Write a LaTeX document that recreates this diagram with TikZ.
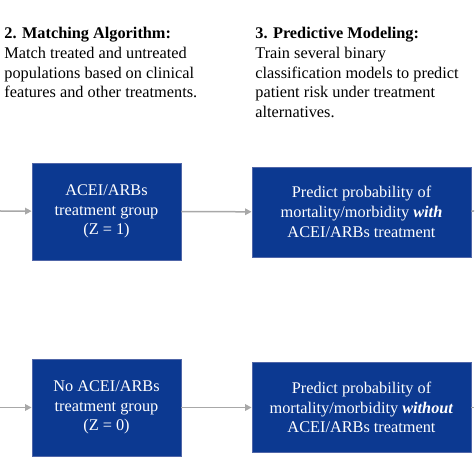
\documentclass[tikz,border=0pt]{standalone}
\usepackage{fontspec}
\setmainfont{Liberation Serif}
\usetikzlibrary{arrows.meta}
\definecolor{boxblue}{RGB}{12,57,145}
\definecolor{boxedge}{RGB}{80,102,168}
\definecolor{linkgray}{RGB}{168,168,168}
\begin{document}
\begin{tikzpicture}[x=0.5pt,y=-0.5pt,
  every node/.style={font=\fontsize{8.15}{9.85}\selectfont},
  groupbox/.style={draw=boxedge,line width=0.4pt,fill=boxblue,text=white,align=center,
    minimum width=74.5pt,minimum height=48.5pt,inner sep=0pt},
  predbox/.style={groupbox,minimum width=109.5pt,minimum height=45pt},
  link/.style={draw=linkgray,line width=0.75pt,-{Triangle[length=3.2pt,width=3.2pt]}},
  stub/.style={draw=linkgray,line width=0.75pt}]
\useasboundingbox (0,0) rectangle (474,474);
% step headings
\node[anchor=north west,align=left,inner sep=0pt] (match) at (4,27)
  {\textbf{2. Matching Algorithm:}\\Match treated and untreated\\populations based on clinical\\features and other treatments.};
\node[anchor=north west,align=left,inner sep=0pt] (model) at (255,27)
  {\textbf{3. Predictive Modeling:}\\Train several binary\\classification models to predict\\patient risk under treatment\\alternatives.};
% treated row
\coordinate (intop) at (0,211);
\node[groupbox] (treated) at (106.5,211.5) {ACEI/ARBs\\treatment group\\(Z = 1)};
\node[predbox] (predwith) at (361.5,212) {Predict probability of\\mortality/morbidity \textbf{\textit{with}}\\ACEI/ARBs treatment};
\coordinate (outtop) at (474,211);
\draw[link] (intop) -- (treated);
\draw[link] (treated) -- (predwith);
\draw[stub] (predwith) -- (outtop);
% untreated row
\coordinate (inbot) at (0,407.5);
\node[groupbox] (untreated) at (106.5,407.5) {No ACEI/ARBs\\treatment group\\(Z = 0)};
\node[predbox] (predwithout) at (361.5,407.5) {Predict probability of\\mortality/morbidity \textbf{\textit{without}}\\ACEI/ARBs treatment};
\coordinate (outbot) at (474,407.5);
\draw[link] (inbot) -- (untreated);
\draw[link] (untreated) -- (predwithout);
\draw[stub] (predwithout) -- (outbot);
\end{tikzpicture}
\end{document}
